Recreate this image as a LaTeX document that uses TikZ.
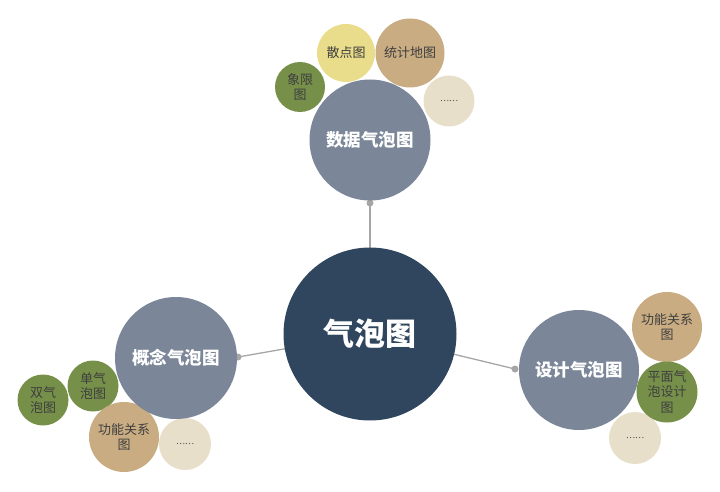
\documentclass[tikz,border=0pt]{standalone}
\usepackage{fontspec}
\newfontfamily\cjk{Noto Sans CJK SC}
\definecolor{navy}{HTML}{2F465E}
\definecolor{slate}{HTML}{7B8798}
\definecolor{bgreen}{HTML}{76904A}
\definecolor{byellow}{HTML}{E9DC8A}
\definecolor{btan}{HTML}{C9AC82}
\definecolor{bbeige}{HTML}{E7DFC9}
\definecolor{lgray}{HTML}{A6A6A6}
\definecolor{txt}{HTML}{3F3F3F}
\tikzset{
  bub/.style={circle, inner sep=0pt, align=center, text=txt,
    font=\cjk\fontsize{13}{15.5}\selectfont},
  dots/.style={bub, fill=bbeige, font=\cjk\fontsize{8.5}{10}\selectfont},
  mainbub/.style={circle, inner sep=0pt, align=center, fill=slate, text=white,
    font=\cjk\bfseries\fontsize{17.5}{20}\selectfont},
  conn/.style={draw=lgray, line width=1.3pt},
  dotmark/.style={fill=lgray, draw=none}
}
\begin{document}
\begin{tikzpicture}[x=1pt,y=-1pt]
\useasboundingbox (0,0) rectangle (720,492);
% connector end points
\coordinate (dt) at (370,203);
\coordinate (dl) at (238,357);
\coordinate (dr) at (515,369);
\coordinate (cc) at (370,334);
\draw[conn] (cc) -- (dt);
\draw[conn] (cc) -- (dl);
\draw[conn] (cc) -- (dr);
\fill[dotmark] (dt) circle (3.5);
\fill[dotmark] (dl) circle (3.5);
\fill[dotmark] (dr) circle (3.5);
% top group
\node[bub, fill=bgreen, minimum size=50pt] (xx) at (300,87) {象限\\图};
\node[bub, fill=byellow, minimum size=58pt] (sd) at (346,53) {散点图};
\node[bub, fill=btan, minimum size=69pt] (tj) at (410,53) {统计地图};
\node[dots, minimum size=51pt] (t4) at (449,101) {……};
% left group
\node[bub, fill=bgreen, minimum size=51pt] (sq) at (43,400) {双气\\泡图};
\node[bub, fill=bgreen, minimum size=51pt] (dq) at (93,386) {单气\\泡图};
\node[bub, fill=btan, minimum size=70pt] (gl) at (124,437) {功能关系\\图};
\node[dots, minimum size=52pt] (l4) at (185,444) {……};
% right group
\node[bub, fill=btan, minimum size=70pt] (rg) at (667,327) {功能关系\\图};
\node[dots, minimum size=52pt] (r4) at (635,438) {……};
\node[bub, fill=bgreen, minimum size=61pt] (pm) at (667,392) {平面气\\泡设计\\图};
% main bubbles
\node[mainbub, minimum size=121pt] (top) at (370,140) {数据气泡图};
\node[mainbub, minimum size=122pt] (left) at (176,358) {概念气泡图};
\node[mainbub, minimum size=120pt] (right) at (579,370) {设计气泡图};
\node[circle, inner sep=0pt, fill=navy, text=white, minimum size=173pt,
  font=\cjk\bfseries\fontsize{31}{34}\selectfont] (c) at (cc) {气泡图};
\end{tikzpicture}
\end{document}
